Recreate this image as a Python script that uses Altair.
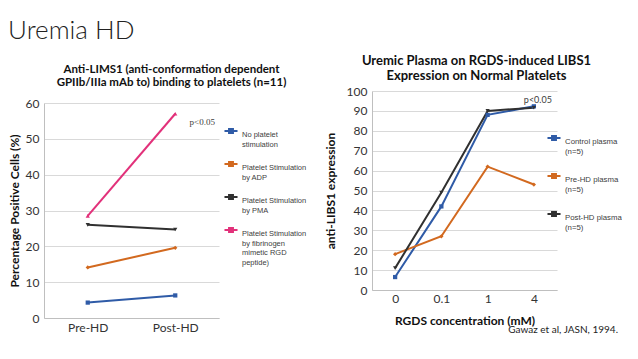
import altair as alt
import pandas as pd

# ---- left panel data ----
stages = ["Pre-HD", "Post-HD"]
left_series = [
    "No platelet|stimulation",
    "Platelet Stimulation|by ADP",
    "Platelet Stimulation|by PMA",
    "Platelet Stimulation|by fibrinogen|mimetic RGD|peptide)",
]
no_stim = [4.3, 6.3]
adp = [14.1, 19.6]
pma = [26.0, 24.7]
rgd = [28.5, 57.0]
left_colors = ["#2F5BA7", "#D2691F", "#303030", "#E2317A"]
left_shapes = ["square", "diamond", "triangle-down", "triangle-up"]

# ---- right panel data ----
conc = ["0", "0.1", "1", "4"]
right_series = ["Control plasma|(n=5)", "Pre-HD plasma|(n=5)", "Post-HD plasma|(n=5)"]
control = [6.5, 42.0, 88.0, 92.3]
pre_hd = [18.0, 27.0, 62.0, 53.0]
post_hd = [11.0, 49.0, 90.0, 91.6]
right_colors = ["#2F5BA7", "#D2691F", "#303030"]
right_shapes = ["square", "diamond", "triangle-down"]

rows = []
for s, vals in zip(left_series, [no_stim, adp, pma, rgd]):
    for st, v in zip(stages, vals):
        rows.append({"series": s, "stage": st, "value": v})
df_l = pd.DataFrame(rows)

rows = []
for s, vals in zip(right_series, [control, pre_hd, post_hd]):
    for c, v in zip(conc, vals):
        rows.append({"series": s, "conc": c, "value": v})
df_r = pd.DataFrame(rows)

FONT = "Lato"
SYM = "M-1,0L1,0M-0.3,-0.3L0.3,-0.3L0.3,0.3L-0.3,0.3Z"
H = 199  # common plot height (right panel); left panel scale spans a taller range

# ---------------- left chart ----------------
xl = alt.X("stage:N", sort=stages, scale=alt.Scale(type="point", padding=0.5),
           axis=alt.Axis(title=None, labelAngle=0, labelFontSize=12, labelPadding=4, offset=28))
yl = alt.Y("value:Q", scale=alt.Scale(domain=[0, 60], range=[227, 12]),
           axis=alt.Axis(values=[0, 10, 20, 30, 40, 50, 60], title="Percentage Positive Cells (%)",
                         titleFontSize=12, titleFontWeight="bold", labelFontSize=12,
                         titlePadding=4, labelOverlap=False, labelPadding=5))
cl = alt.Color("series:N", sort=left_series,
               scale=alt.Scale(domain=left_series, range=left_colors),
               legend=alt.Legend(title=None, orient="none", legendX=179, legendY=32,
                                 labelExpr="split(datum.label, '|')", labelFontSize=7.5,
                                 labelColor="#404040", symbolType=SYM, symbolSize=170,
                                 symbolStrokeWidth=2, rowPadding=8, labelOffset=3,
                                 labelBaseline="top", gridAlign="none"))

line_l = alt.Chart(df_l).mark_line(strokeWidth=2).encode(x=xl, y=yl, color=cl)
pts_l = [
    alt.Chart(df_l).transform_filter(alt.datum.series == s).mark_point(
        filled=True, size=18, opacity=1, shape=sh, color=c).encode(x=xl, y=yl)
    for s, sh, c in zip(left_series, left_shapes, left_colors)
]
ann_l = alt.Chart(pd.DataFrame({"stage": ["Post-HD"], "value": [54.7], "t": ["p<0.05"]})).mark_text(
    font="Liberation Serif", fontSize=9, color="#404040", dx=27).encode(
    x=xl, y=yl, text="t:N")

left = alt.layer(line_l, *pts_l, ann_l).properties(
    width=175, height=H,
    title=alt.TitleParams(["Anti-LIMS1 (anti-conformation dependent",
                           "GPIIb/IIIa mAb to) binding to platelets (n=11)"],
                          fontSize=11.5, fontWeight="bold", font=FONT, anchor="middle",
                          dx=40, offset=3, lineHeight=12.5, color="#111"))

# ---------------- right chart ----------------
xr = alt.X("conc:N", sort=conc, scale=alt.Scale(type="point", padding=0.5),
           axis=alt.Axis(title="RGDS concentration (mM)", labelAngle=0, labelFontSize=12,
                         titleFontSize=12, titleFontWeight="bold", labelPadding=3, titlePadding=11))
yr = alt.Y("value:Q", scale=alt.Scale(domain=[0, 100]),
           axis=alt.Axis(values=list(range(0, 101, 10)), title="anti-LIBS1 expression",
                         titleFontSize=12, titleFontWeight="bold", labelFontSize=12,
                         titlePadding=9, labelOverlap=False, labelPadding=5))
cr = alt.Color("series:N", sort=right_series,
               scale=alt.Scale(domain=right_series, range=right_colors),
               legend=alt.Legend(title=None, orient="none", legendX=174, legendY=39,
                                 labelExpr="split(datum.label, '|')", labelFontSize=7.8,
                                 labelColor="#404040", symbolType=SYM, symbolSize=170,
                                 symbolStrokeWidth=2, rowPadding=12, labelOffset=3,
                                 labelBaseline="top", gridAlign="none"))
line_r = alt.Chart(df_r).mark_line(strokeWidth=2).encode(x=xr, y=yr, color=cr)
pts_r = [
    alt.Chart(df_r).transform_filter(alt.datum.series == s).mark_point(
        filled=True, size=18, opacity=1, shape=sh, color=c).encode(x=xr, y=yr)
    for s, sh, c in zip(right_series, right_shapes, right_colors)
]
ann_r = alt.Chart(pd.DataFrame({"conc": ["4"], "value": [95.5], "t": ["p<0.05"]})).mark_text(
    font=FONT, fontSize=9, color="#404040", dx=4).encode(
    x=xr, y=yr, text="t:N")
cite = alt.Chart(pd.DataFrame({"t": ["Gawaz et al, JASN, 1994."]})).mark_text(
    font=FONT, fontSize=10, color="#222", align="right").encode(
    x=alt.value(246), y=alt.value(239), text="t:N")

right = alt.layer(line_r, *pts_r, ann_r, cite).properties(
    width=185, height=H,
    title=alt.TitleParams(["Uremic Plasma on RGDS-induced LIBS1", "Expression on Normal Platelets"],
                          fontSize=13, fontWeight="bold", font=FONT, anchor="middle",
                          dx=12, offset=2.5, lineHeight=14.5, color="#111"))

chart = alt.hconcat(left, right, spacing=17).resolve_scale(
    color="independent", x="independent", y="independent"
).properties(
    padding={"top": 10, "left": 0, "right": 0, "bottom": 0},
    title=alt.TitleParams("Uremia HD", anchor="start", fontSize=26, font=FONT,
                          fontWeight=300, color="#222", offset=11)
).configure_view(stroke=None).configure_axis(
    labelFont=FONT, titleFont=FONT, labelColor="#333", titleColor="#111",
    domainColor="#bfbfbf", gridColor="#d9d9d9", ticks=False
).configure_axisX(grid=False)

chart.save("out.html", embed_options={"renderer": "svg", "actions": False})
